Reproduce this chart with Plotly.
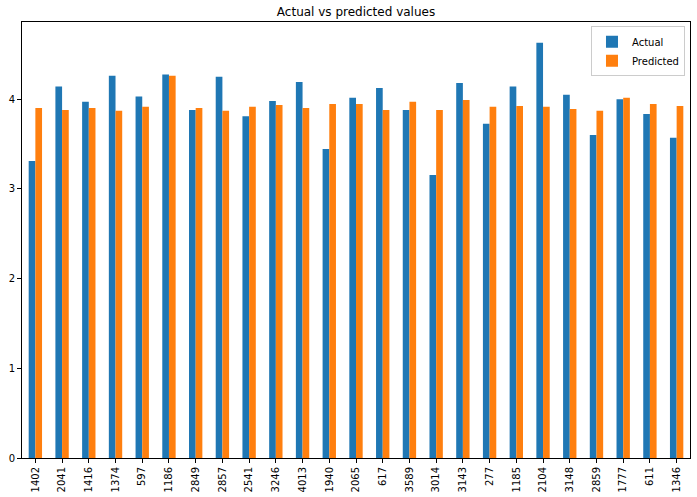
import plotly.graph_objects as go

categories = ["1402", "2041", "1416", "1374", "597", "1186", "2849", "2857", "2541", "3246",
              "4013", "1940", "2065", "617", "3589", "3014", "3143", "277", "1185", "2104",
              "3148", "2859", "1777", "611", "1346"]
actual = [3.31, 4.14, 3.97, 4.26, 4.03, 4.275, 3.88, 4.25, 3.81, 3.98,
          4.19, 3.445, 4.015, 4.125, 3.88, 3.155, 4.18, 3.725, 4.14, 4.63,
          4.05, 3.60, 4.00, 3.835, 3.57]
predicted = [3.90, 3.88, 3.90, 3.87, 3.915, 4.26, 3.90, 3.87, 3.915, 3.935,
             3.90, 3.945, 3.945, 3.88, 3.97, 3.88, 3.99, 3.915, 3.925, 3.915,
             3.89, 3.87, 4.015, 3.945, 3.925]

fig = go.Figure()
fig.add_trace(go.Bar(x=categories, y=actual, name="Actual", marker=dict(color="#1f77b4", line=dict(width=0))))
fig.add_trace(go.Bar(x=categories, y=predicted, name="Predicted", marker=dict(color="#ff7f0e", line=dict(width=0))))

fig.update_layout(
    width=697, height=497,
    margin=dict(l=22, r=7, t=22, b=39),
    barmode="group", bargap=0.5, bargroupgap=0,
    paper_bgcolor="white", plot_bgcolor="white",
    font=dict(family="DejaVu Sans", size=10, color="#000000"),
    title=dict(text="Actual vs predicted values", x=0.5, xanchor="center", xref="paper",
               y=1 - 12 / 497, yanchor="middle", font=dict(size=12, color="#000000")),
    showlegend=True,
    legend=dict(x=0.9925, y=0.99, xanchor="right", yanchor="top",
                bgcolor="rgba(255,255,255,0.8)", bordercolor="#cccccc", borderwidth=1,
                font=dict(size=10), tracegroupgap=0),
    xaxis=dict(type="category", tickangle=-90, showline=True, mirror=True, linecolor="#000000",
               linewidth=1, ticks="outside", ticklen=4, tickcolor="#000000", showgrid=False,
               range=[-0.5, 24.5], tickfont=dict(size=10), automargin=False),
    yaxis=dict(range=[0, 4.86], tickvals=[0, 1, 2, 3, 4], showline=True, mirror=True,
               linecolor="#000000", linewidth=1, ticks="outside", ticklen=4, tickcolor="#000000",
               showgrid=False, zeroline=False, tickfont=dict(size=10), automargin=False),
)

fig.write_html("out.html", config={"displayModeBar": False},
               post_script="document.body.style.margin='0px';document.body.style.overflow='hidden';")
